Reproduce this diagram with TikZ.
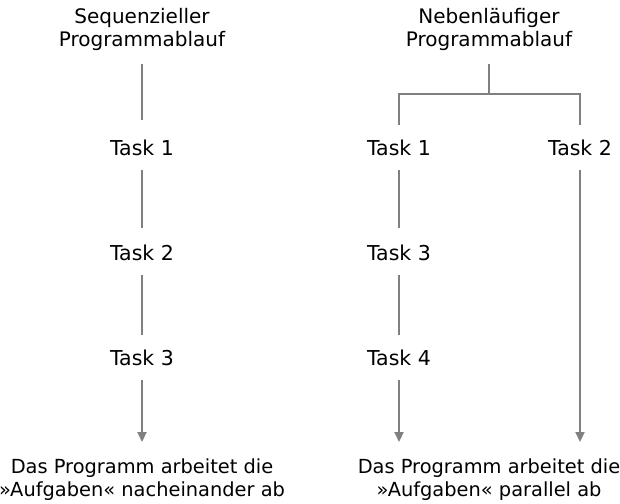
\documentclass[tikz,border=0pt]{standalone}
\usepackage{fontspec}
\setmainfont{DejaVu Sans}
\usetikzlibrary{arrows.meta}
\begin{document}
\begin{tikzpicture}[x=1pt,y=-1pt,
  lbl/.style={font=\fontsize{19.4}{23}\selectfont, align=center, inner sep=0pt, text=black},
  ttl/.style={lbl, font=\fontsize{20}{23}\selectfont},
  tsk/.style={lbl, font=\fontsize{20.5}{23}\selectfont},
  conn/.style={draw=gray, line width=2.2pt},
  arr/.style={conn, -{Triangle[length=10pt,width=9pt]}}]
\useasboundingbox (0,0) rectangle (620,503);
% left column
\node[ttl] (lt) at (142,29) {Sequenzieller\\Programmablauf};
\node[tsk] (l1) at (142,148) {Task 1};
\node[tsk] (l2) at (142,253) {Task 2};
\node[tsk] (l3) at (142,358) {Task 3};
\node[lbl] (lb) at (142,480) {Das Programm arbeitet die\\»Aufgaben« nacheinander ab};
\coordinate (lts) at (142,64);
\coordinate (l1t) at (142,120);
\coordinate (l1b) at (142,170);
\coordinate (l2t) at (142,228);
\coordinate (l2b) at (142,275);
\coordinate (l3t) at (142,335);
\coordinate (l3b) at (142,380);
\coordinate (lend) at (142,442);
\draw[conn] (lts) -- (l1t);
\draw[conn] (l1b) -- (l2t);
\draw[conn] (l2b) -- (l3t);
\draw[arr] (l3b) -- (lend);
% right column
\node[ttl] (rt) at (489,29) {Nebenläufiger\\Programmablauf};
\node[tsk] (r1) at (399,148) {Task 1};
\node[tsk] (r2) at (580,148) {Task 2};
\node[tsk] (r3) at (399,253) {Task 3};
\node[tsk] (r4) at (399,358) {Task 4};
\node[lbl] (rb) at (489,480) {Das Programm arbeitet die\\»Aufgaben« parallel ab};
\coordinate (rts) at (489,64);
\coordinate (rfork) at (489,94);
\coordinate (ra) at (399,125);
\coordinate (rbb) at (580,125);
\draw[conn] (rts) -- (rfork);
\draw[conn] (ra) |- (rfork) -| (rbb);
\coordinate (r1b) at (399,170);
\coordinate (r3t) at (399,228);
\coordinate (r3b) at (399,275);
\coordinate (r4t) at (399,335);
\coordinate (r4b) at (399,380);
\coordinate (rend1) at (399,442);
\coordinate (r2b) at (580,170);
\coordinate (rend2) at (580,442);
\draw[conn] (r1b) -- (r3t);
\draw[conn] (r3b) -- (r4t);
\draw[arr] (r4b) -- (rend1);
\draw[arr] (r2b) -- (rend2);
\end{tikzpicture}
\end{document}
